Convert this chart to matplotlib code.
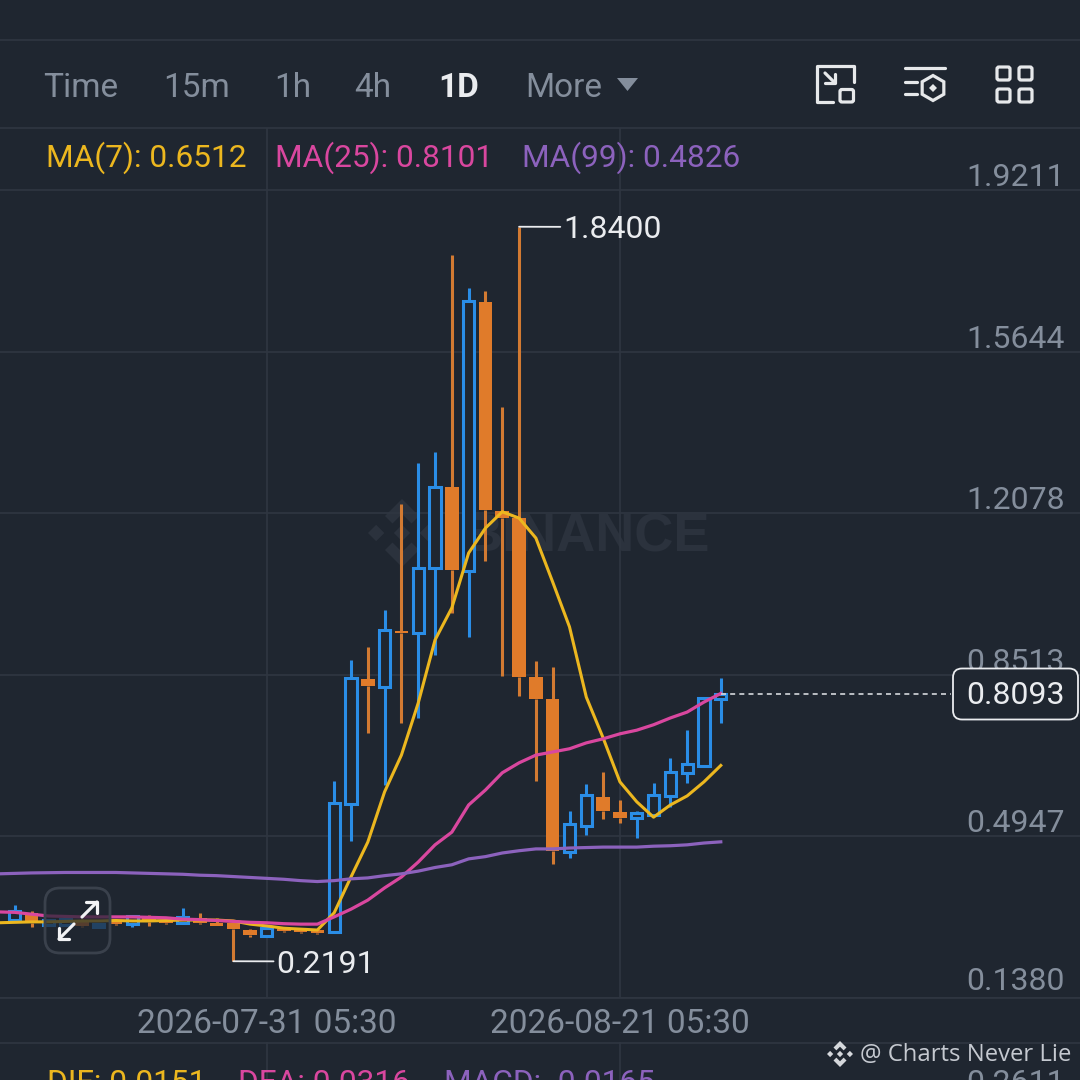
import numpy as np
import matplotlib
matplotlib.use('Agg')
import matplotlib.pyplot as plt
from matplotlib.patches import Polygon, FancyBboxPatch

plt.rcParams['font.family'] = ['Roboto', 'DejaVu Sans']

# days counted from 2026-07-31
candle_days = np.arange(-15, 28)
ma_days = np.arange(-16, 28)

opens = [.310, .326, .299, .299, .310, .295, .310, .301, .315, .310, .304, .315, .304, .304, .288, .275, .290, .288, .288,
         .284, .566, .842, .824, .948, .944, 1.087, 1.266, 1.080, 1.674, 1.213, 1.197, .846, .798, .460, .518, .582, .549,
         .535, .542, .584, .635, .650, .798]
closes = [.330, .304, .310, .312, .297, .301, .301, .319, .306, .304, .317, .304, .297, .290, .277, .292, .286, .283, .281,
          .568, .844, .827, .950, .944, 1.087, 1.266, 1.083, 1.676, 1.215, 1.197, .846, .798, .462, .522, .586, .551, .535,
          .546, .586, .637, .654, .800, .8093]
highs = [.343, .330, .312, .314, .313, .303, .312, .321, .321, .315, .337, .326, .315, .306, .290, .292, .292, .289, .289,
         .617, .884, .913, .994, 1.228, 1.319, 1.343, 1.778, 1.705, 1.698, 1.442, 1.840, .882, .869, .551, .610, .637, .575,
         .551, .613, .668, .729, .800, .844]
lows = [.306, .295, .297, .297, .295, .293, .299, .295, .297, .301, .304, .301, .297, .2191, .273, .275, .284, .282, .280,
        .284, .485, .723, .608, .745, .756, .895, .988, .935, 1.102, .849, .805, .617, .434, .447, .498, .533, .524, .491,
        .540, .560, .613, .650, .745]

ma7 = [.304, .305, .306, .306, .307, .308, .308, .309, .308, .308, .309, .310, .310, .310, .308, .301, .297, .292, .290, .288,
       .326, .405, .482, .593, .674, .789, .928, .999, 1.120, 1.175, 1.211, 1.197, 1.153, 1.056, .957, .802, .712, .615, .571,
       .537, .564, .584, .615, .6512]
ma25 = [.328, .327, .323, .319, .318, .317, .317, .317, .317, .316, .315, .312, .311, .309, .307, .305, .304, .302, .301, .301,
        .317, .334, .354, .381, .405, .438, .476, .504, .564, .597, .635, .657, .674, .681, .688, .701, .710, .721, .729,
        .741, .756, .769, .791, .8101]
ma99 = [.412, .413, .414, .4145, .415, .415, .415, .415, .414, .413, .412, .411, .409, .408, .406, .404, .402, .400, .397, .395,
        .397, .401, .403, .408, .412, .418, .426, .432, .445, .450, .458, .463, .467, .467, .469, .470, .471, .471, .471,
        .473, .474, .476, .480, .4826]

y_ticks = [1.9211, 1.5644, 1.2078, 0.8513, 0.4947, 0.1380]
y_labels = ['1.9211', '1.5644', '1.2078', '0.8513', '0.4947', '0.1380']
x_ticks = [0, 21]
x_labels = ['2026-07-31 05:30', '2026-08-21 05:30']
last_price = 0.8093

BG = '#1f2630'
GRID = '#2f3641'
GRAY = '#848e9c'
BLUE = '#2a8de6'
ORANGE = '#e07b2a'
WICK_ORANGE = '#d27a32'
YELLOW = '#ecb71f'
PINK = '#d9479f'
PURPLE = '#8c62bd'
WHITE = '#eaecef'
FS = 23
FS_WIDE = 24
FS_MA = 22.8


def logo(ax, cx, cy, r, color, **kw):
    # diamond logo built from a centre, two side squares and two chevrons
    def diamond(x, y, s):
        return [(x - s, y), (x, y - s), (x + s, y), (x, y + s)]
    for pts in (diamond(cx, cy, r * .24), diamond(cx - r * .76, cy, r * .24), diamond(cx + r * .76, cy, r * .24)):
        ax.add_patch(Polygon(pts, fc=color, ec='none', **kw))
    for sign in (-1, 1):
        pts = [(cx - r * .5, cy + sign * r * .5), (cx, cy + sign * r), (cx + r * .5, cy + sign * r * .5),
               (cx + r * .28, cy + sign * r * .28), (cx, cy + sign * r * .56), (cx - r * .28, cy + sign * r * .28)]
        ax.add_patch(Polygon(pts, fc=color, ec='none', **kw))


fig = plt.figure(figsize=(10.8, 10.8), dpi=100, facecolor=BG)

# background layer: rules and the faint watermark
back = fig.add_axes([0, 0, 1, 1], zorder=0)
back.set_xlim(0, 1080)
back.set_ylim(1080, 0)
back.axis('off')
for y in (40, 128, 1043):
    back.plot([0, 1080], [y, y], color=GRID, lw=1.2)
for x in (267, 620):
    back.plot([x, x], [1043, 1080], color=GRID, lw=1.2)
logo(back, 402, 533, 34, '#2b323d')
back.text(463, 537, 'BINANCE', color='#2b323d', fontsize=39, fontweight='bold',
          family=['Liberation Sans', 'DejaVu Sans'], va='center', ha='left')

# price chart
ax = fig.add_axes([0, 82 / 1080, 1, 870 / 1080], zorder=1)
ax.set_facecolor('none')
ax.set_xlim(-15.88, 48.37)
ax.set_ylim(0.138, 2.0579)
for side in ('left', 'right', 'top'):
    ax.spines[side].set_visible(False)
ax.spines['bottom'].set_color(GRID)
ax.spines['bottom'].set_linewidth(1.2)
ax.set_axisbelow(True)
ax.grid(True, color=GRID, lw=1.2)
ax.set_yticks(y_ticks)
ax.set_xticks(x_ticks, labels=x_labels)
ax.tick_params(axis='y', length=0, labelleft=False)
ax.tick_params(axis='x', length=0, pad=7, labelsize=FS_WIDE, labelcolor=GRAY)
for p, lab in zip(y_ticks, y_labels):
    ax.annotate(lab, xy=(1, p), xycoords=('axes fraction', 'data'),
                xytext=(-15, 8 if p < 0.2 else 4), textcoords='offset pixels',
                ha='right', va='baseline', color=GRAY, fontsize=FS, zorder=1)

o, c, h, l = map(np.array, (opens, closes, highs, lows))
up = c >= o
top = np.maximum(o, c)
bot = np.minimum(o, c)
cols = [BLUE if u else WICK_ORANGE for u in up]
ax.vlines(candle_days, top, h, colors=cols, lw=2.2, zorder=2)
ax.vlines(candle_days, l, bot, colors=cols, lw=2.2, zorder=2)
ax.bar(candle_days[~up], (top - bot)[~up], bottom=bot[~up], width=0.81, color=ORANGE, zorder=2)
ax.bar(candle_days[up], (top - bot)[up], bottom=bot[up], width=0.66, facecolor=BG, edgecolor=BLUE, lw=2.2, zorder=2)

ax.plot(ma_days, ma7, color=YELLOW, lw=2.2, zorder=3)
ax.plot(ma_days, ma25, color=PINK, lw=2.3, zorder=3)
ax.plot(ma_days, ma99, color=PURPLE, lw=2.3, zorder=3)

# high / low callouts
ax.annotate('1.8400', xy=(15, 1.84), xytext=(44, -3), textcoords='offset pixels', color=WHITE, fontsize=FS,
            va='center', ha='left', zorder=4,
            arrowprops=dict(arrowstyle='-', color=WHITE, lw=1.3, shrinkA=0, shrinkB=0, relpos=(0, 0.6)))
ax.annotate('0.2191', xy=(-2, 0.2191), xytext=(43, -3), textcoords='offset pixels', color=WHITE, fontsize=FS,
            va='center', ha='left', zorder=4,
            arrowprops=dict(arrowstyle='-', color=WHITE, lw=1.3, shrinkA=0, shrinkB=0, relpos=(0, 0.6)))

# last price line
ax.plot([27, 40.7], [last_price, last_price], color='#d5d8dc', lw=1.2, ls=(0, (3, 2.5)), zorder=3)

# interface layer
ui = fig.add_axes([0, 0, 1, 1], zorder=2)
ui.set_xlim(0, 1080)
ui.set_ylim(1080, 0)
ui.axis('off')

for x, lab in zip((43, 163, 274, 354, 525), ('Time', '15m', '1h', '4h', 'More')):
    ui.text(x, 88, lab, color=GRAY, fontsize=FS_WIDE, va='center', ha='left')
ui.text(438, 88, '1D', color=WHITE, fontsize=FS_WIDE, fontweight='bold', va='center', ha='left')
ui.add_patch(Polygon([(617, 78), (638, 78), (627.5, 91)], fc=GRAY, ec='none'))

ui.text(46, 158, 'MA(7): 0.6512', color=YELLOW, fontsize=FS_MA, va='center')
ui.text(275, 158, 'MA(25): 0.8101', color=PINK, fontsize=FS_MA, va='center')
ui.text(522, 158, 'MA(99): 0.4826', color=PURPLE, fontsize=FS_MA, va='center')

ui.text(47, 1092, 'DIF: 0.0151', color=YELLOW, fontsize=FS_MA, va='baseline')
ui.text(238, 1092, 'DEA: 0.0316', color=PINK, fontsize=FS_MA, va='baseline')
ui.text(444, 1092, 'MACD: -0.0165', color=PURPLE, fontsize=FS_MA, va='baseline')
ui.text(1065, 1092, '0.2611', color=GRAY, fontsize=FS, va='baseline', ha='right')

# toolbar icons
icon = dict(color='#e6e8ea', lw=2.3, solid_capstyle='round', solid_joinstyle='round')
ui.plot([854, 854, 817, 817, 833], [82, 66, 66, 102, 102], **icon)
ui.plot([825, 835], [73, 83], **icon)
ui.plot([825, 835, 835], [83, 83, 74], **icon)
ui.add_patch(FancyBboxPatch((840, 89.5), 13.5, 12.5, boxstyle='round,pad=0,rounding_size=2', fc='none', ec='#e6e8ea', lw=2.3))
ui.plot([905, 945], [68, 68], **icon)
ui.plot([905, 917], [82, 82], **icon)
ui.plot([905, 917], [94, 94], **icon)
ang = np.radians(np.arange(30, 390, 60))
ui.add_patch(Polygon(np.c_[933 + 12.5 * np.cos(ang), 88 + 12.5 * np.sin(ang)], fc='none', ec='#e6e8ea', lw=2.3))
ui.add_patch(Polygon([(929, 88), (933, 84), (937, 88), (933, 92)], fc='#e6e8ea', ec='none'))
for x in (997, 1019):
    for y in (67, 89):
        ui.add_patch(FancyBboxPatch((x, y), 13, 13, boxstyle='round,pad=0,rounding_size=2', fc='none', ec='#e6e8ea', lw=2.3))

# expand button
ui.add_patch(FancyBboxPatch((45, 888), 65, 65, boxstyle='round,pad=0,rounding_size=15', fc=BG, alpha=.72, ec='none'))
ui.add_patch(FancyBboxPatch((45, 888), 65, 65, boxstyle='round,pad=0,rounding_size=15', fc='none', ec='#3a414c', lw=2))
ui.plot([82, 97], [917, 902], **dict(icon, color='#f2f3f5'))
ui.plot([86, 97, 97], [902, 902, 913], **dict(icon, color='#f2f3f5'))
ui.plot([74, 59], [924, 939], **dict(icon, color='#f2f3f5'))
ui.plot([59, 59, 69], [928, 939, 939], **dict(icon, color='#f2f3f5'))

# last price box
ui.add_patch(FancyBboxPatch((953, 668.5), 125, 51, boxstyle='round,pad=0,rounding_size=9', fc=BG, ec='#eaecef', lw=1.3))
ui.text(1016, 696, '0.8093', color=WHITE, fontsize=FS, va='center', ha='center')

# corner credit
logo(ui, 840, 1054, 13, '#d5d8dc')
ui.text(860, 1055, '@ Charts Never Lie', color='#c5c9d0', fontsize=17.2, family=['Open Sans', 'DejaVu Sans'], va='center', ha='left')

fig.savefig('out.png', dpi=100, facecolor=BG)
